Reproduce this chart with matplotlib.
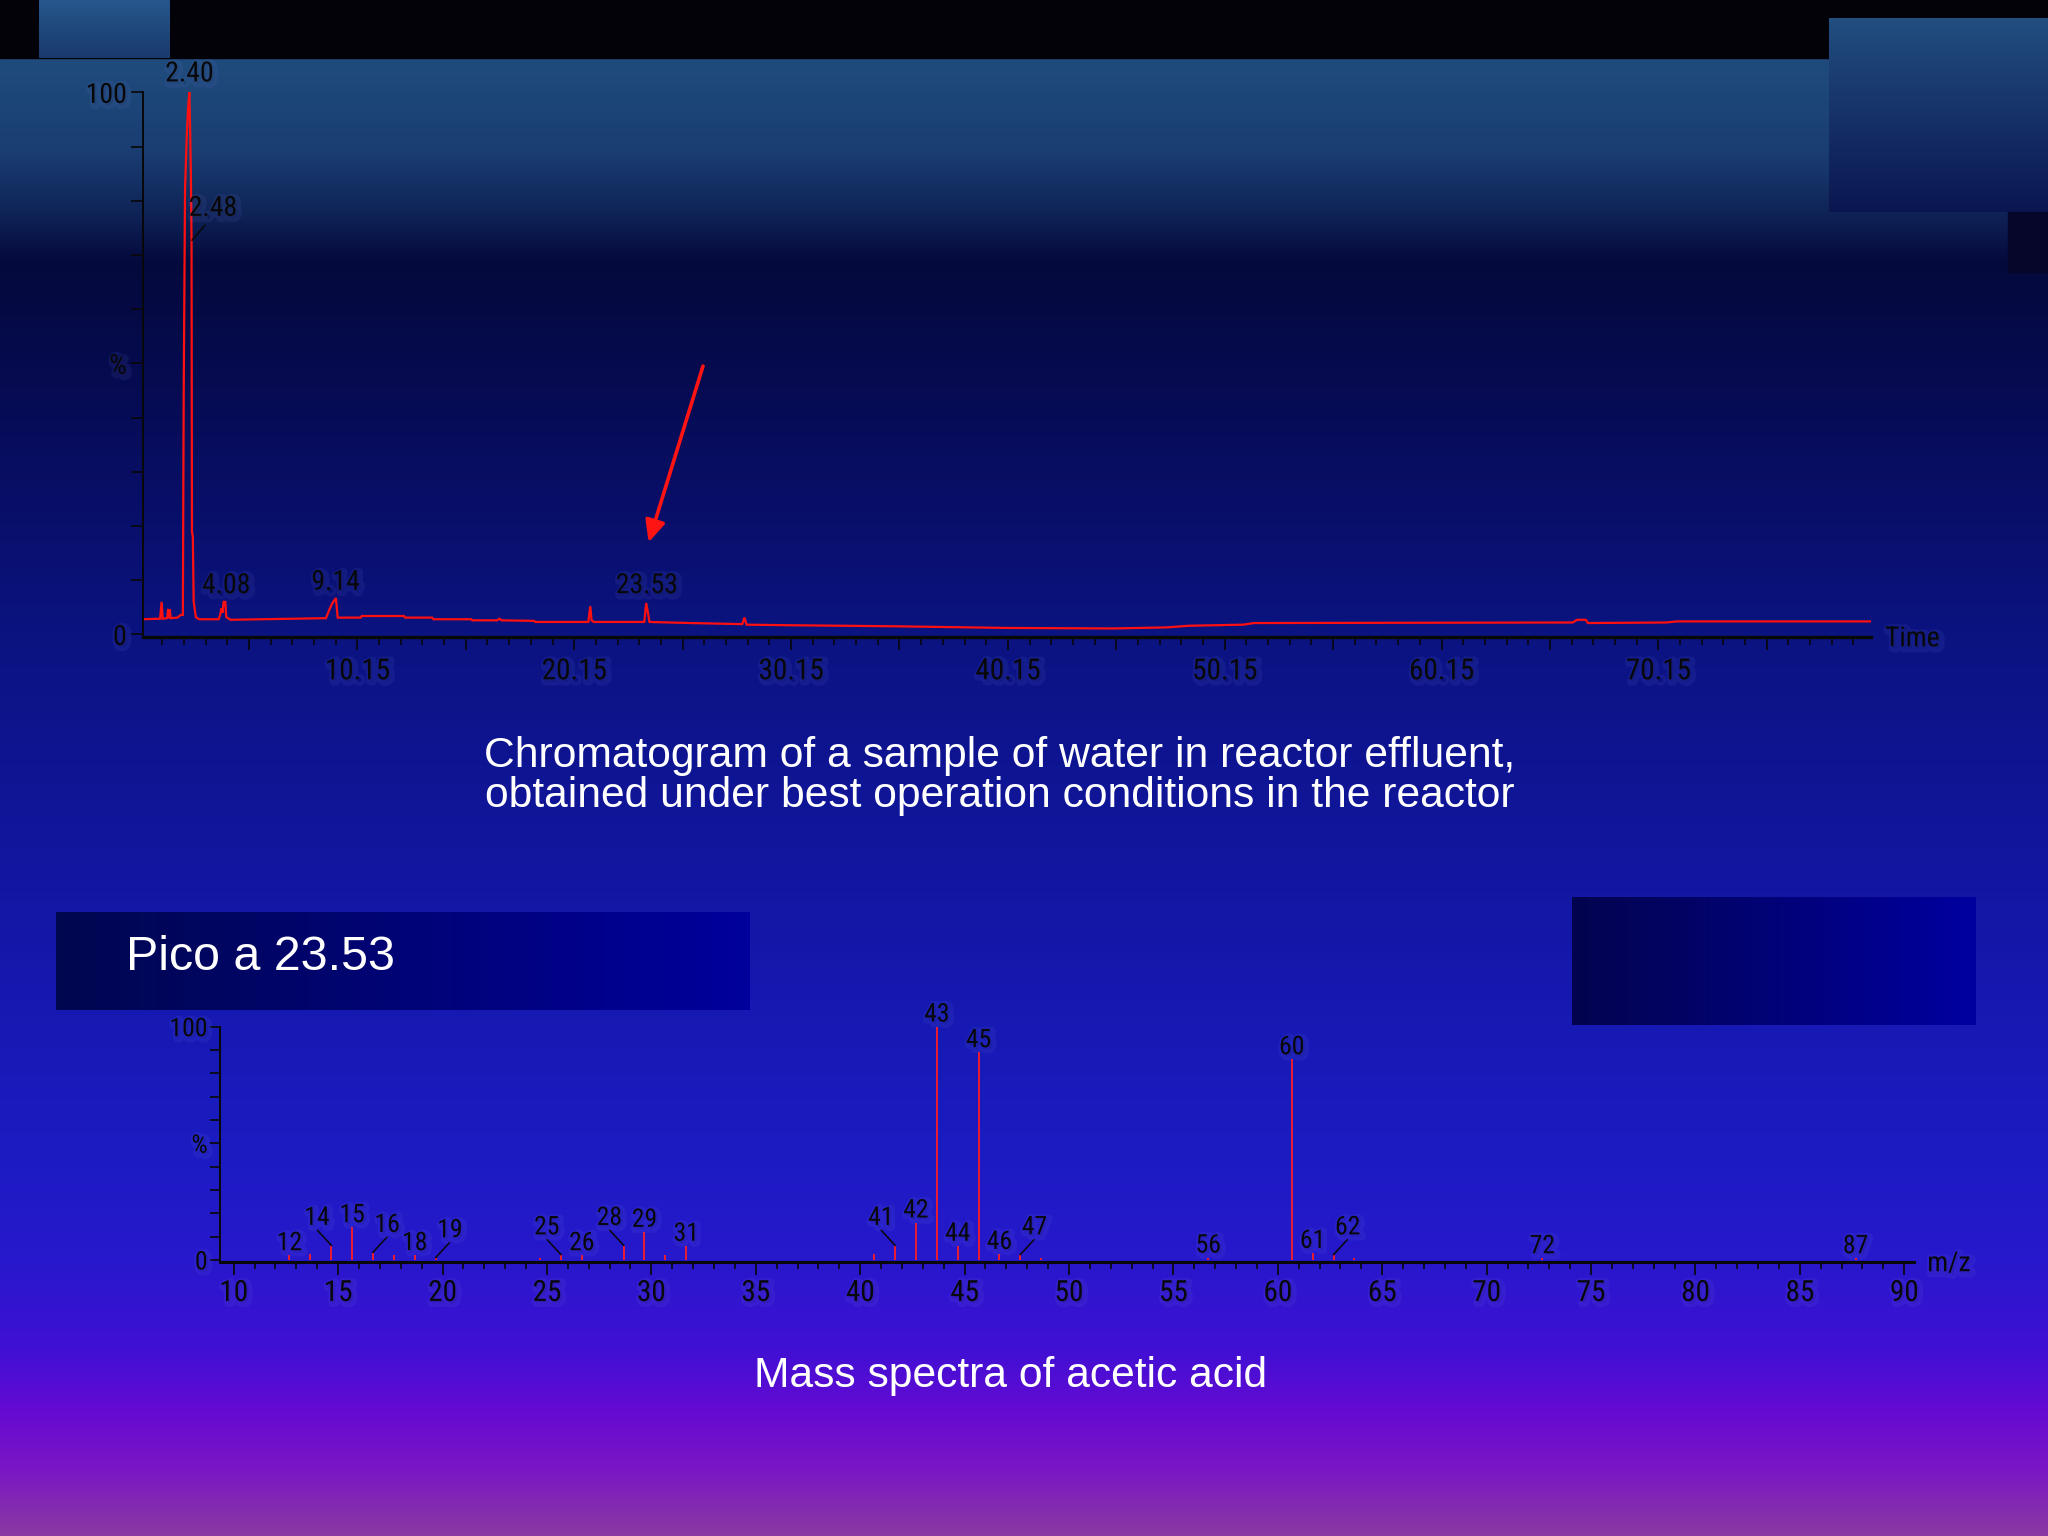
import os
import numpy as np
import matplotlib
matplotlib.use("Agg")
import matplotlib.pyplot as plt
import matplotlib.patheffects as pe
from matplotlib import font_manager as fm
from matplotlib.colors import to_rgb

plt.rcParams["font.family"] = ["Liberation Sans", "DejaVu Sans"]

# ---- chromatogram (TIC): retention time (min) vs relative intensity (%) ----
rt = [0.25, 1.05, 1.12, 1.17, 1.38, 1.42, 1.46, 1.50, 1.54, 1.85, 2.00, 2.10,
      2.14, 2.20, 2.28, 2.34, 2.40, 2.44, 2.47, 2.50, 2.52, 2.56, 2.60, 2.70,
      2.85, 3.75, 3.82, 3.88, 3.93, 3.98, 4.06, 4.10, 4.30, 8.70, 8.85, 9.00,
      9.16, 9.24, 10.30, 10.35, 12.30, 12.35, 13.60, 13.65, 15.40, 15.45,
      16.60, 16.70, 16.80, 18.30, 18.35, 20.80, 20.89, 20.95, 21.05, 23.38,
      23.47, 23.55, 23.62, 25.50, 27.90, 28.00, 28.10, 30.0, 35.0, 40.0, 45.0,
      47.5, 48.5, 51.0, 51.5, 66.2, 66.4, 66.8, 66.9, 70.5, 71.0, 79.96]
tic = [2.8, 2.9, 6.0, 2.9, 3.0, 4.7, 3.0, 4.6, 3.0, 3.1, 3.6, 3.6,
       45, 82, 92, 97, 100, 92, 85, 73, 19, 18, 6, 3.2,
       2.8, 2.8, 3.6, 4.8, 4.0, 6.0, 6.0, 3.2, 2.7, 3.0, 4.5, 5.8,
       6.7, 3.1, 3.1, 3.4, 3.4, 3.1, 3.1, 2.8, 2.8, 2.6,
       2.6, 2.9, 2.6, 2.5, 2.3, 2.3, 5.2, 2.6, 2.3, 2.3,
       5.8, 4.0, 2.3, 2.1, 1.9, 3.1, 1.8, 1.7, 1.5, 1.2, 1.1,
       1.3, 1.6, 1.8, 2.1, 2.2, 2.7, 2.7, 2.1, 2.2, 2.4, 2.4]
rt_ticks = [10.15, 20.15, 30.15, 40.15, 50.15, 60.15, 70.15]

# ---- mass spectrum of the 23.53 min peak ----
mz = [12, 13, 14, 15, 16, 17, 18, 19, 24, 25, 26, 28, 29, 30, 31,
      40, 41, 42, 43, 44, 45, 46, 47, 48, 56, 60, 61, 62, 63, 72, 87]
abund = [2, 2.5, 6, 14, 3, 2, 2, 0.7, 0.7, 2, 2, 6, 12, 2, 6,
         2.5, 6, 16, 100, 6, 89, 2.5, 2, 0.7, 1, 86, 3, 2, 1, 0.7, 0.7]
mz_labelled = [12, 14, 15, 16, 18, 19, 25, 26, 28, 29, 31, 41, 42, 43, 44,
               45, 46, 47, 56, 60, 61, 62, 72, 87]
# labels drawn beside the stick with a leader line (-1 left, +1 right)
mz_leader = {14: -1, 16: 1, 19: 1, 25: -1, 28: -1, 41: -1, 47: 1, 62: 1}
MZ_OFFSET = 0.67   # sticks sit a bit right of the nominal tick


def find_narrow():
    # the instrument labels use a narrow sans; take one if the box has it
    for name in ("Liberation Sans Narrow", "Arial Narrow", "Roboto Condensed",
                 "Open Sans Condensed", "Noto Sans Condensed"):
        for f in fm.fontManager.ttflist:
            if f.name == name and f.style == "normal" and f.weight in (400, "normal", "regular"):
                return f.fname
    bad = ("bold", "semi", "light", "medium", "black", "thin", "extra", "italic", "ultra")
    for f in fm.fontManager.ttflist:
        fn = os.path.basename(f.fname).lower()
        if ("condensed" in fn or "narrow" in fn) and not any(b in fn for b in bad):
            return f.fname
    return None


NARROW_FILE = find_narrow()
SCALE = 1.0 if NARROW_FILE else 0.86   # regular sans is wider, shrink it a bit


def lab_font(size):
    if NARROW_FILE:
        return fm.FontProperties(fname=NARROW_FILE, size=size)
    return fm.FontProperties(family="Liberation Sans", size=size * SCALE)


W, H = 2048, 1536
fig = plt.figure(figsize=(W / 100, H / 100), dpi=100)

# ---------------- slide background ----------------
bg = fig.add_axes([0, 0, 1, 1], zorder=-10)
bg.set_xlim(0, W)
bg.set_ylim(H, 0)
bg.axis("off")


def vgrad(ys, cs, n):
    yy = np.linspace(ys[0], ys[-1], n)
    rgb = np.array([to_rgb(c) for c in cs])
    return np.stack([np.interp(yy, ys, rgb[:, k]) for k in range(3)], axis=-1)[:, None, :]


def hgrad(c0, c1, n=200):
    a = np.array(to_rgb(c0))
    b = np.array(to_rgb(c1))
    t = np.linspace(0, 1, n)[:, None]
    return (a + (b - a) * t)[None, :, :]


stops_y = [0, 58, 150, 215, 262, 420, 630, 900, 1150, 1262, 1350, 1410, 1470, 1536]
stops_c = ["#1f4c7c", "#1f4c7c", "#1a3e72", "#0f2256", "#04093c", "#070c58",
           "#0b1380", "#1217a4", "#1b1cc2", "#2818cc", "#4010d4", "#640ad2",
           "#7a16c4", "#8a3aa2"]
bg.imshow(vgrad(stops_y, stops_c, 900), extent=(0, W, H, 0), aspect="auto", zorder=0)

# top black band with the small blue tab
bg.add_patch(plt.Rectangle((0, 0), W, 58, color="#020208", zorder=1))
bg.imshow(vgrad([0, 58], ["#26578c", "#1a3a6c"], 50), extent=(39, 170, 58, 0),
          aspect="auto", zorder=2)
# top right block
bg.imshow(vgrad([18, 212], ["#224e80", "#0a1650"], 100), extent=(1829, W, 212, 18),
          aspect="auto", zorder=2)
bg.add_patch(plt.Rectangle((2008, 212), 40, 60, color="#05062a", zorder=2))

# title box and right box
bg.imshow(hgrad("#00074f", "#00009c"), extent=(56, 750, 1010, 912), aspect="auto", zorder=2)
bg.imshow(hgrad("#03044e", "#0000a0"), extent=(1572, 1976, 1025, 897), aspect="auto", zorder=2)

bg.text(126, 958, "Pico a 23.53", color="white", fontsize=34.8, ha="left", va="center", zorder=3)
bg.text(1000, 776, "Chromatogram of a sample of water in reactor effluent,\n"
        "obtained under best operation conditions in the reactor",
        color="white", fontsize=30.7, ha="center", va="center", linespacing=1.0, zorder=3)
bg.text(1011, 1376, "Mass spectra of acetic acid", color="white", fontsize=30.7,
        ha="center", va="center", zorder=3)

INK = "#080808"
GLOW = [pe.Stroke(linewidth=6, foreground="#6a78e0", alpha=0.10, offset=(1.5, -1.5)),
        pe.Normal()]


def style_axis(ax, xlw):
    ax.patch.set_visible(False)
    for s in ("top", "right"):
        ax.spines[s].set_visible(False)
    ax.spines["bottom"].set_linewidth(xlw)
    ax.spines["left"].set_linewidth(1.4)
    ax.spines["bottom"].set_color(INK)
    ax.spines["left"].set_color(INK)
    ax.set_yticks(range(0, 101, 10))
    ax.set_yticklabels(["0"] + [""] * 4 + ["%"] + [""] * 4 + ["100"])


def label(ax, x, y, s, size, **kw):
    return ax.text(x, y, s, color=INK, fontproperties=lab_font(size),
                   ha=kw.pop("ha", "center"), va=kw.pop("va", "center"),
                   clip_on=False, path_effects=GLOW, **kw)


def restyle_ticks(ax, xsize, ysize):
    for t in ax.get_xticklabels():
        t.set_fontproperties(lab_font(xsize))
        t.set_path_effects(GLOW)
    for t in ax.get_yticklabels():
        t.set_fontproperties(lab_font(ysize))
        t.set_path_effects(GLOW)


# ---------------- chromatogram ----------------
ax1 = fig.add_axes([0.0697, 0.5852, 0.8439, 0.3547])
style_axis(ax1, 2.4)
ax1.plot(rt, tic, color="#ff1010", lw=1.6, solid_joinstyle="miter")
ax1.set_xlim(0.25, 79.96)
ax1.set_ylim(-0.5, 100)
ax1.set_xticks(rt_ticks + [5.15 + 10 * k for k in range(8)])
ax1.set_xticklabels([f"{t:.2f}" for t in rt_ticks] + [""] * 8)
ax1.set_xticks([1.15 + k for k in range(79)], minor=True)
ax1.tick_params(axis="x", which="major", length=9.5, width=1.2, color=INK,
                labelcolor=INK, pad=5)
ax1.tick_params(axis="x", which="minor", length=5.5, width=1.2, color=INK)
ax1.tick_params(axis="y", length=8.5, width=1.2, color=INK, labelcolor=INK, pad=3)
restyle_ticks(ax1, 21, 20)
label(ax1, 80.6, -0.8, "Time", 20, ha="left")

label(ax1, 2.405, 103.4, "2.40", 20)
ax1.annotate("", xy=(2.52, 72.7), xytext=(3.12, 75.5),
             arrowprops=dict(arrowstyle="-", color=INK, lw=1.1, shrinkA=0, shrinkB=0))
label(ax1, 3.49, 78.6, "2.48", 20)
label(ax1, 4.10, 9.0, "4.08", 20)
label(ax1, 9.14, 9.6, "9.14", 20)
label(ax1, 23.50, 9.0, "23.53", 20)
ax1.annotate("", xy=(23.58, 17.0), xytext=(26.09, 49.5),
             arrowprops=dict(arrowstyle="-|>,head_length=1.3,head_width=0.6",
                             color="#ff1414", lw=2.6, shrinkA=0, shrinkB=0))

# ---------------- mass spectrum ----------------
ax2 = fig.add_axes([0.1075, 0.1782, 0.8269, 0.1534])
style_axis(ax2, 2.2)
pos = np.array(mz) + MZ_OFFSET
ax2.vlines(pos, 0, abund, color="#ee1c30", lw=1.4)
ax2.set_xlim(9.35, 90.45)
ax2.set_ylim(-1, 100)
ax2.set_xticks(range(10, 91, 5))
ax2.set_xticks(range(10, 91), minor=True)
ax2.tick_params(axis="x", which="major", length=9, width=1.2, color=INK,
                labelcolor=INK, pad=3)
ax2.tick_params(axis="x", which="minor", length=5, width=1.2, color=INK)
ax2.tick_params(axis="y", length=7, width=1.2, color=INK, labelcolor=INK, pad=2)
restyle_ticks(ax2, 21, 18.5)
label(ax2, 91.1, -1.6, "m/z", 20, ha="left")

for m, a, p in zip(mz, abund, pos):
    if m not in mz_labelled:
        continue
    side = mz_leader.get(m)
    if side is None:
        label(ax2, p, a + 5.2, str(m), 18.5)
    else:
        label(ax2, p + side * 0.68, a + 12.0, str(m), 18.5)
        ax2.plot([p + side * 0.66, p], [a + 6.7, a + 0.3], color=INK, lw=1.1)

fig.savefig("out.png", dpi=100)
